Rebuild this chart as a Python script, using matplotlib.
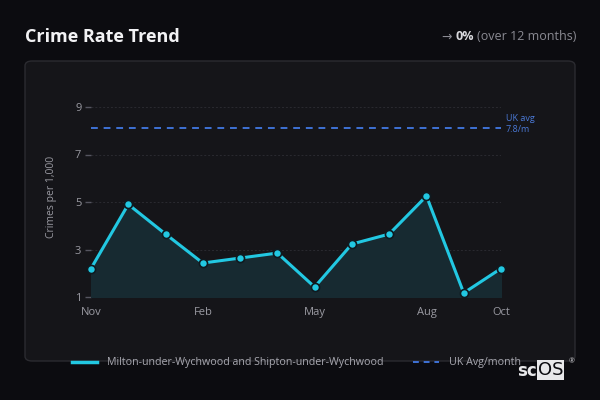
import matplotlib
matplotlib.use("Agg")
import matplotlib.pyplot as plt
from matplotlib.patches import FancyBboxPatch
from matplotlib.lines import Line2D

plt.rcParams['font.family'] = ['Open Sans', 'DejaVu Sans']

# data
months = ['Nov', 'Dec', 'Jan', 'Feb', 'Mar', 'Apr', 'May', 'Jun', 'Jul', 'Aug', 'Sep', 'Oct']
rate = [2.2, 4.9, 3.65, 2.43, 2.64, 2.85, 1.42, 3.23, 3.65, 5.25, 1.17, 2.2]
uk_avg = 8.12
tick_months = ['Nov', 'Feb', 'May', 'Aug', 'Oct']
y_ticks = [1, 3, 5, 7, 9]
area_name = 'Milton-under-Wychwood and Shipton-under-Wychwood'

bg = '#0c0c10'
card = '#151519'
line_col = '#22c8e2'
avg_col = '#3f72d6'
txt = '#9a9aa2'

W, H = 600, 400
fig = plt.figure(figsize=(6, 4), dpi=100, facecolor=bg)

def fx(px):
    return px / W

def fy(py):
    return 1 - py / H

# card panel
fig.patches.append(FancyBboxPatch((fx(25), fy(361)), fx(550), 300 / H,
                                  boxstyle="round,pad=0,rounding_size=0.012",
                                  transform=fig.transFigure, facecolor=card,
                                  edgecolor='#2b2b30', linewidth=1, zorder=-5))

# plot
ax = fig.add_axes([fx(91), fy(297), fx(410), 199.5 / H])
ax.set_facecolor('none')
ax.set_zorder(2)
x = list(range(len(months)))
ax.fill_between(x, 1, rate, color='#172a31', zorder=1)
ax.plot(x, rate, color=line_col, lw=2.2, zorder=3, solid_joinstyle='round')
ax.scatter(x, rate, s=34, color=line_col, edgecolor='#0f1a20', linewidth=1.2, zorder=4,
           clip_on=False)
ax.axhline(uk_avg, color=avg_col, lw=1.4, ls=(0, (3.5, 3)), zorder=2)
ax.text(1.012, (uk_avg - 1) / 8.4 + 0.02, 'UK avg\n7.8/m', transform=ax.transAxes,
        color='#4b7ad8', fontsize=6.5, va='center', ha='left', linespacing=1.2)

ax.set_xlim(0, len(months) - 1)
ax.set_ylim(1, 9.4)
ax.set_yticks(y_ticks)
ax.set_xticks([months.index(m) for m in tick_months])
ax.set_xticklabels(tick_months)
for s in ax.spines.values():
    s.set_visible(False)
ax.tick_params(axis='y', colors='#555560', labelcolor=txt, length=4, width=1, pad=3, labelsize=8)
ax.tick_params(axis='x', length=0, labelcolor=txt, pad=7, labelsize=8)
ax.grid(axis='y', color='#2a2a30', lw=0.7, ls=(0, (2, 2)))
ax.set_axisbelow(True)
ax.set_ylabel('Crimes per 1,000', color=txt, fontsize=7.5, labelpad=13)

# title and header
fig.text(fx(25), fy(37), 'Crime Rate Trend', color='#f2f2f4', fontsize=13,
         fontweight='bold', va='center', ha='left')
fig.canvas.draw()
r = fig.canvas.get_renderer()
t1 = fig.text(fx(576), fy(37), '(over 12 months)', color='#8a8a92', fontsize=9,
              va='center', ha='right')
bb = t1.get_window_extent(r)
t2 = fig.text(bb.x0 / fig.bbox.width - fx(3), fy(37), '0%', color='#d8d8dc', fontsize=9,
              fontweight='bold', va='center', ha='right')
bb2 = t2.get_window_extent(r)
fig.text(bb2.x0 / fig.bbox.width - fx(3), fy(37), '\u2192', color='#8a8a92', fontsize=9,
         va='center', ha='right', family=['DejaVu Sans'])

# legend
handles = [Line2D([], [], color=line_col, lw=2.5),
           Line2D([], [], color=avg_col, lw=1.4, ls=(0, (3, 2.5)))]
fig.legend(handles, [area_name, 'UK Avg/month'], loc='center left',
           bbox_to_anchor=(fx(62), fy(363)), ncol=2, frameon=False,
           fontsize=7.7, labelcolor='#a8a8b0', handlelength=2.4, handletextpad=0.9,
           columnspacing=2.8)

# logo
fig.text(fx(517), fy(371), 'sc', color='#e8e8ea', fontsize=12, fontweight='bold',
         va='center', ha='left', family=['DejaVu Sans'])
fig.text(fx(538), fy(370), 'OS', color='#0c0c10', fontsize=13, va='center', ha='left',
         family=['DejaVu Sans'],
         bbox=dict(boxstyle='square,pad=0.05', facecolor='#e8e8ea', edgecolor='none'))
fig.text(fx(569), fy(362), '\u00ae', color='#c8c8cc', fontsize=5, va='center', ha='left')

fig.savefig('out.png', dpi=100, facecolor=bg)
